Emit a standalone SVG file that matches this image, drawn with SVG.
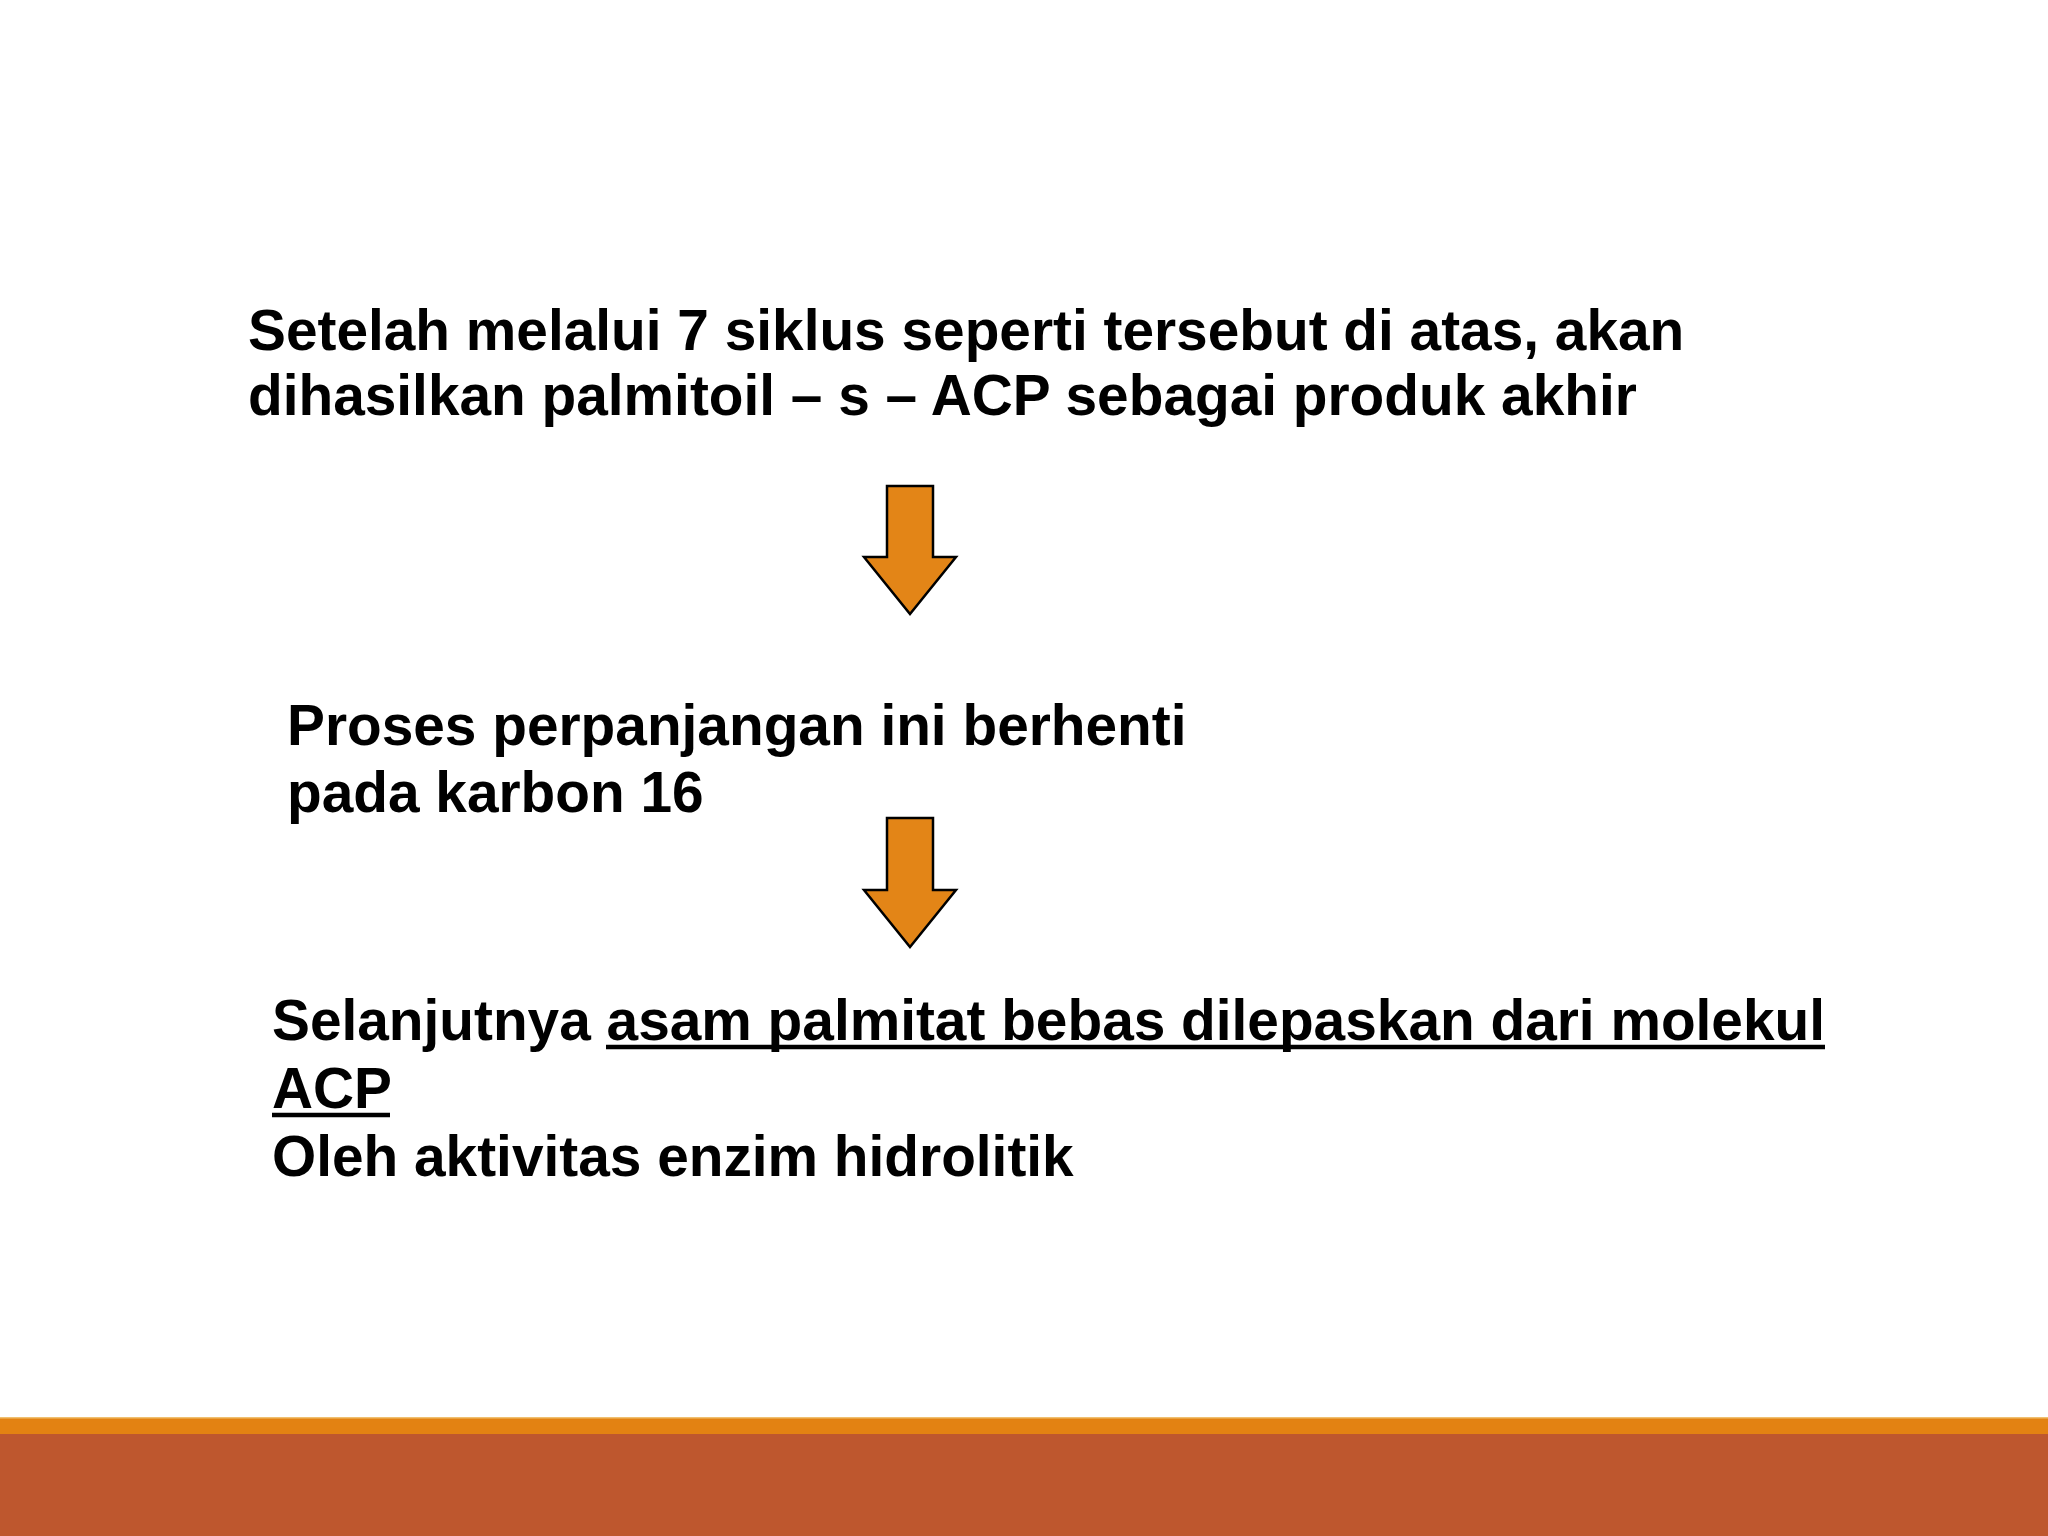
<svg xmlns="http://www.w3.org/2000/svg" width="2048" height="1536" viewBox="0 0 2048 1536">
<style>
.t{font-family:"Liberation Sans",Arial,sans-serif;font-weight:bold;font-size:56.8px;fill:#000}
.ul{stroke:#000;stroke-width:4.5}
.arrow{fill:#E38517;stroke:#000;stroke-width:2.5;stroke-linejoin:miter}
</style>
<rect width="2048" height="1536" fill="#fff"/>
<g id="text1">
<text class="t" x="248" y="350">Setelah melalui 7 siklus seperti tersebut di atas, akan</text>
<text class="t" x="248" y="415">dihasilkan palmitoil – s – ACP sebagai produk akhir</text>
</g>
<g id="text2">
<text class="t" x="287" y="745">Proses perpanjangan ini berhenti</text>
<text class="t" x="287" y="812">pada karbon 16</text>
</g>
<g id="text3">
<text class="t" x="272" y="1040">Selanjutnya asam palmitat bebas dilepaskan dari molekul</text>
<line class="ul" x1="606" y1="1047" x2="1825" y2="1047"/>
<text class="t" x="272" y="1108">ACP</text>
<line class="ul" x1="272" y1="1115" x2="390" y2="1115"/>
<text class="t" x="272" y="1176">Oleh aktivitas enzim hidrolitik</text>
</g>
<g id="connectors">
<polygon class="arrow" points="887,486 933,486 933,557 956,557 910,614 864,557 887,557"/>
<polygon class="arrow" points="887,818 933,818 933,890 956,890 910,947 864,890 887,890"/>
</g>
<g id="footer">
<rect x="0" y="1417" width="2048" height="17" fill="#E38212"/>
<rect x="0" y="1417" width="2048" height="1.5" fill="#F0C070"/>
<rect x="0" y="1434" width="2048" height="102" fill="#BE572E"/>
</g>
</svg>
